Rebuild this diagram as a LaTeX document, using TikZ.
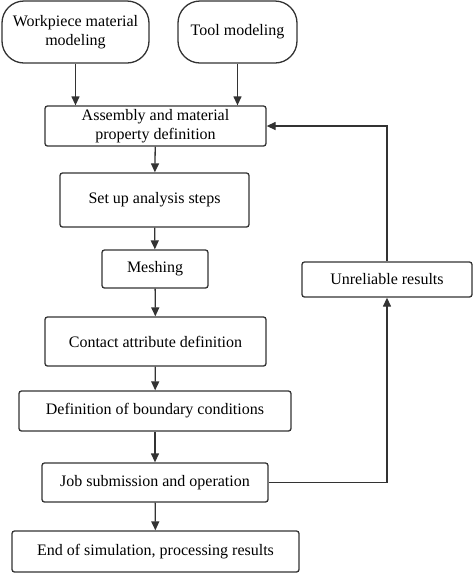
\documentclass[tikz,border=0pt]{standalone}
\usepackage{fontspec}
\setmainfont{Liberation Serif}
\usetikzlibrary{arrows.meta}

\definecolor{linegray}{HTML}{333333}

\begin{document}
\begin{tikzpicture}[x=1pt,y=-1pt,
        font=\fontsize{16}{19}\selectfont,
        every node/.style={draw=linegray, line width=1.3pt, inner sep=0pt, align=center},
        stepbox/.style={rounded corners=2.5pt},
        startbox/.style={rounded corners=22pt},
        flow/.style={draw=linegray, line width=1.3pt, -{Triangle[length=9pt,width=8pt]}}]
        \useasboundingbox (0,0) rectangle (474,574);

        \node[startbox, minimum width=147pt, minimum height=62pt] (work) at (75.5,32) {Workpiece material\\modeling};
        \node[startbox, minimum width=119pt, minimum height=62pt] (tool) at (237.5,32) {Tool modeling};

        \node[stepbox, minimum width=221pt, minimum height=40pt] (asm) at (155.5,126) {Assembly and material\\property definition};
        \node[stepbox, minimum width=189pt, minimum height=54pt] (setup) at (154.5,200) {Set up analysis steps};
        \node[stepbox, minimum width=106pt, minimum height=38pt] (mesh) at (155,269) {Meshing};
        \node[stepbox, minimum width=221pt, minimum height=49pt] (contact) at (155.5,341.5) {Contact attribute definition};
        \node[stepbox, minimum width=272pt, minimum height=40pt] (bound) at (155,411) {Definition of boundary conditions};
        \node[stepbox, minimum width=226pt, minimum height=39pt] (job) at (155,482.5) {Job submission and operation};
        \node[stepbox, minimum width=287pt, minimum height=41pt] (end) at (155.5,551.5) {End of simulation, processing results};
        \node[stepbox, minimum width=170pt, minimum height=35pt] (unrel) at (387,279.5) {Unreliable results};

        \draw[flow] (work.south) -- (work.south |- asm.north);
        \draw[flow] (tool.south) -- (tool.south |- asm.north);
        \draw[flow] (asm) -- (setup);
        \draw[flow] (setup) -- (mesh);
        \draw[flow] (mesh) -- (contact);
        \draw[flow] (contact) -- (bound);
        \draw[flow] (bound) -- (job);
        \draw[flow] (job) -- (end);
        \draw[flow] (job.east) -| (unrel.south);
        \draw[flow] (unrel.north) |- (asm.east);
    \end{tikzpicture}
\end{document}
